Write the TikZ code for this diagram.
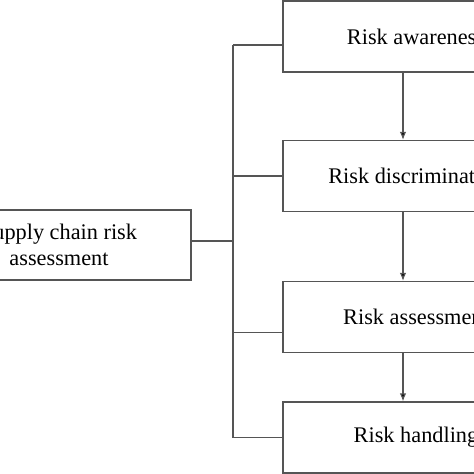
\documentclass[tikz,border=0pt]{standalone}
\usepackage{fontspec}
\setmainfont{Liberation Serif}
\usepackage{tikz}
\usetikzlibrary{arrows.meta}

\definecolor{linegray}{HTML}{555555}

\begin{document}
\begin{tikzpicture}[x=1pt, y=-1pt,
    stagebox/.style={draw=linegray, line width=1.2pt, minimum width=266pt, minimum height=71pt, inner sep=0pt, font=\fontsize{22.3}{26}\selectfont},
    link/.style={draw=linegray, line width=1.2pt},
    flow/.style={link, -{Latex[length=8pt, width=6.5pt, fill=black]}}]
    % Frame of the picture
    \useasboundingbox (0,0) rectangle (474,474);
    \clip (0,0) rectangle (474,474);

    % Main box on the left
    \node[stagebox, minimum width=264pt, minimum height=70pt, align=center] (scra) at (59,245) {Supply chain risk\\assessment};

    % Stages on the right
    \node[stagebox] (aware) at (416,36.5) {Risk awareness};
    \node[stagebox] (discr) at (416,176) {Risk discrimination};
    \node[stagebox] (asses) at (416,317) {Risk assessment};
    \node[stagebox] (handl) at (416,437.5) {Risk handling};

    % Trunk
    \coordinate (trunktop) at (233,45);
    \coordinate (trunkbot) at (233,437.5);
    \coordinate (scraout) at ([yshift=4pt]scra.east);
    \coordinate (assesin) at ([yshift=-15.5pt]asses.west);
    \draw[link] (trunktop) -- (trunkbot);
    \draw[link] (scraout) -- (scraout -| trunktop);

    % Branches to the stages
    \draw[link] (trunktop) -- (trunktop -| aware.west);
    \draw[link] (discr.west -| trunktop) -- (discr.west);
    \draw[link] (assesin -| trunktop) -- (assesin);
    \draw[link] (trunkbot) -- (handl.west);

    % Arrows between the stages
    \foreach \a/\b in {aware/discr, discr/asses, asses/handl}
        \draw[flow] (\a.south -| 403,0) -- (\b.north -| 403,0);
\end{tikzpicture}
\end{document}
